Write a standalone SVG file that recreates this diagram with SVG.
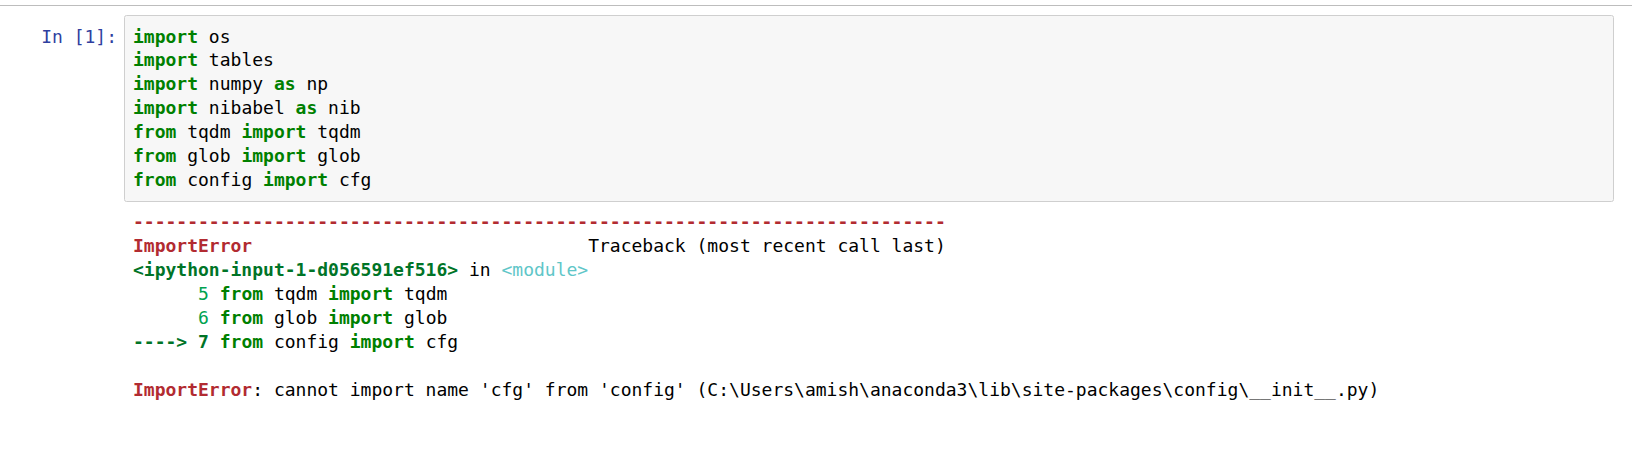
<svg xmlns="http://www.w3.org/2000/svg" width="1632" height="457" viewBox="0 0 1632 457">
<style>
text{font-family:"DejaVu Sans Mono","Liberation Mono",monospace;font-size:18px;fill:#000;white-space:pre}
.k{fill:#008000;font-weight:bold}
.r{fill:#b22b31}
.rb{fill:#b22b31;font-weight:bold}
.g{fill:#007427;font-weight:bold}
.n{fill:#00a250}
.c{fill:#60c6c8}
.p{fill:#303f9f}
</style>
<rect width="1632" height="457" fill="#fff"/>
<line x1="0" y1="5.5" x2="1632" y2="5.5" stroke="#bdbdbd" stroke-width="1"/>
<g id="prompt"><text x="117" y="43" text-anchor="end" class="p">In [1]:</text></g>
<g id="input">
<rect x="124.5" y="15.5" width="1489" height="186" rx="2" fill="#f7f7f7" stroke="#cfcfcf"/>
<text x="133" y="43"><tspan class="k">import</tspan> os</text>
<text x="133" y="66"><tspan class="k">import</tspan> tables</text>
<text x="133" y="90"><tspan class="k">import</tspan> numpy <tspan class="k">as</tspan> np</text>
<text x="133" y="114"><tspan class="k">import</tspan> nibabel <tspan class="k">as</tspan> nib</text>
<text x="133" y="138"><tspan class="k">from</tspan> tqdm <tspan class="k">import</tspan> tqdm</text>
<text x="133" y="162"><tspan class="k">from</tspan> glob <tspan class="k">import</tspan> glob</text>
<text x="133" y="186"><tspan class="k">from</tspan> config <tspan class="k">import</tspan> cfg</text>
</g>
<g id="output">
<text x="133" y="228" class="rb">---------------------------------------------------------------------------</text>
<text x="133" y="252"><tspan class="rb">ImportError</tspan>                               Traceback (most recent call last)</text>
<text x="133" y="276"><tspan class="g">&lt;ipython-input-1-d056591ef516&gt;</tspan> in <tspan class="c">&lt;module&gt;</tspan></text>
<text x="133" y="300"><tspan class="n">      5</tspan> <tspan class="k">from</tspan> tqdm <tspan class="k">import</tspan> tqdm</text>
<text x="133" y="324"><tspan class="n">      6</tspan> <tspan class="k">from</tspan> glob <tspan class="k">import</tspan> glob</text>
<text x="133" y="348"><tspan class="g">----&gt; 7</tspan> <tspan class="k">from</tspan> config <tspan class="k">import</tspan> cfg</text>
<text x="133" y="396"><tspan class="rb">ImportError</tspan>: cannot import name 'cfg' from 'config' (C:\Users\amish\anaconda3\lib\site-packages\config\__init__.py)</text>
</g>
</svg>
